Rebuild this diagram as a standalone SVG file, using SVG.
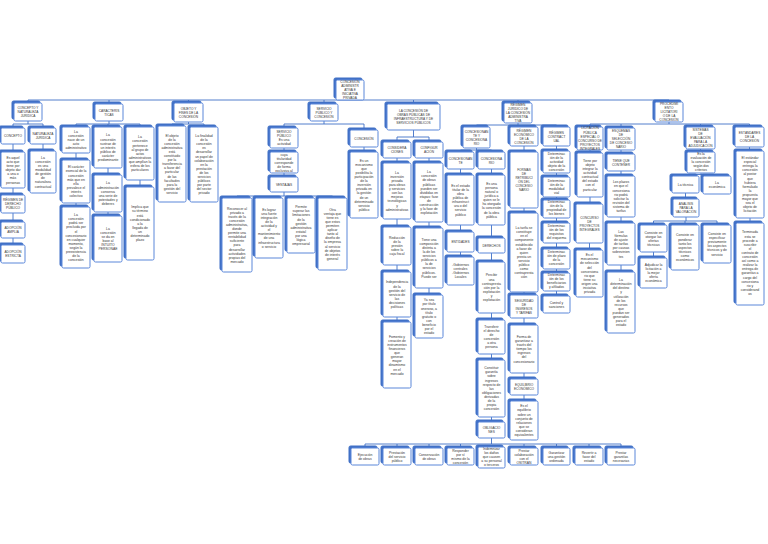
<svg xmlns="http://www.w3.org/2000/svg" width="768" height="544" viewBox="0 0 768 544">
<defs>
<filter id="sh" x="-30%" y="-30%" width="160%" height="160%"><feDropShadow dx="-2" dy="-2" stdDeviation="0" flood-color="#3f6fc6" flood-opacity="1"/></filter>
<style>
.node rect{fill:#fff;stroke:#5b87d9;stroke-width:1;filter:url(#sh)}
.node text{font-family:"Liberation Sans",Arial,sans-serif;font-size:3.4px;fill:#333;text-anchor:middle}
.node.h text{font-size:3.2px}
#connectors path{fill:none;stroke:#3f6fc6;stroke-width:0.9}
</style>
</defs>
<rect width="768" height="544" fill="#fff"/>
<g id="connectors">
<path d="M28 100H669M28 100V103M109 100V104M188.5 100V103M324 100V104M413.5 100V104M518 100V103M669 100V102"/>
<path d="M28 121V124M13 124H43M13 124V128M43 124V128M13 144V152M13 188V195M13 213V222M13 238V245M43 144V151"/>
<path d="M109 121V124M76 124H140M76 124V127M108 124V127M140 124V127M76 153V160M76 203V207M108 168V175M108 212V216M140 180V187"/>
<path d="M188.5 122V124M172 124H204M172 124V126M204 124V127"/>
<path d="M324 121V124M284 124H364M284 124V128M364 124V130M284 148V152M284 173V177M364 147V152M284 192V196M237 196H332.5M237 196V198M269 196V198M301 196V198M332.5 196V198"/>
<path d="M413.5 130V137M397 137H429M397 137V142M429 137V142M397 158V163M397 219V227M397 265V272M397 317V322M429 158V163M429 222V228M429 288V295"/>
<path d="M518 123V125M476.5 125H556.5M476.5 125V127M524 125V127M556.5 125V127M476.5 148V150M460.5 150H491.5M460.5 150V152M491.5 150V152"/>
<path d="M460.5 169V175M460.5 225V232M460.5 252V257M491.5 169V175M491.5 225V238M491.5 253V262M491.5 313V320M491.5 354V360M491.5 417V422M491.5 438V444M365 444H621M365 444V448M397 444V448M429 444V448M460.5 444V448M524 444V448M556.5 444V448M589 444V448M621 444V448"/>
<path d="M524 146V152M524 208V213M524 292V295M524 318V325M524 373V379M524 395V401M556.5 146V151M556.5 173V177M556.5 197V200M556.5 218V223M556.5 243V249M556.5 269V273M556.5 291V296"/>
<path d="M669 122V124M590 124H749.5M590 124V127M621 124V128M700.5 124V127M749.5 124V127M590 150V153M590 197V204M589.5 243V250M621 150V154M621 171V176M621 217V223M621 265V272"/>
<path d="M700.5 149V152M701 173V174.5M685.5 174.5H717M685.5 174.5V176M717 174.5V176M685.5 193V199M686 217V221M653.5 221H717M653.5 221V225M685 221V225M717 221V225M653.5 252V258M749.5 147V151M750 218V223"/>
</g>
<g id="root" class="node h"><rect x="336" y="80" width="28" height="20" rx="1.5"/><text x="350" y="83"><tspan x="350">CONCESIÓN</tspan><tspan x="350" dy="4.1">ADMINISTR</tspan><tspan x="350" dy="4.1">ATIVA E</tspan><tspan x="350" dy="4.1">INICIATIVA</tspan><tspan x="350" dy="4.1">PRIVADA</tspan></text></g>
<g id="concepto-naturaleza" class="node h"><rect x="14" y="103" width="28" height="18" rx="1.5"/><text x="28" y="109.1"><tspan x="28">CONCEPTO Y</tspan><tspan x="28" dy="4.1">NATURALEZA</tspan><tspan x="28" dy="4.1">JURÍDICA</tspan></text></g>
<g id="concepto" class="node h"><rect x="1" y="128" width="24" height="16" rx="1.5"/><text x="13" y="137.2"><tspan x="13">CONCEPTO</tspan></text></g>
<g id="naturaleza" class="node h"><rect x="30" y="128" width="26" height="16" rx="1.5"/><text x="43" y="135.15"><tspan x="43">NATURALEZA</tspan><tspan x="43" dy="4.1">JURÍDICA</tspan></text></g>
<g id="concepto-txt" class="node"><rect x="1" y="152" width="24" height="36" rx="1.5"/><text x="13" y="158.9"><tspan x="13">Es aquel</tspan><tspan x="13" dy="4.1">acto que</tspan><tspan x="13" dy="4.1">tiene por</tspan><tspan x="13" dy="4.1">objeto dar</tspan><tspan x="13" dy="4.1">a una o</tspan><tspan x="13" dy="4.1">más</tspan><tspan x="13" dy="4.1">personas</tspan></text></g>
<g id="regimen-dp" class="node h"><rect x="1" y="195" width="24" height="18" rx="1.5"/><text x="13" y="201.1"><tspan x="13">RÉGIMEN DE</tspan><tspan x="13" dy="4.1">DERECHO</tspan><tspan x="13" dy="4.1">PÚBLICO</tspan></text></g>
<g id="adopcion-amplia" class="node h"><rect x="1" y="222" width="24" height="16" rx="1.5"/><text x="13" y="229.15"><tspan x="13">ADOPCIÓN</tspan><tspan x="13" dy="4.1">AMPLIA</tspan></text></g>
<g id="adopcion-estricta" class="node h"><rect x="1" y="245" width="24" height="18" rx="1.5"/><text x="13" y="253.15"><tspan x="13">ADOPCIÓN</tspan><tspan x="13" dy="4.1">ESTRICTA</tspan></text></g>
<g id="naturaleza-txt" class="node"><rect x="30" y="151" width="26" height="42" rx="1.5"/><text x="43" y="158.85"><tspan x="43">La</tspan><tspan x="43" dy="4.1">concesión</tspan><tspan x="43" dy="4.1">es una</tspan><tspan x="43" dy="4.1">modalidad</tspan><tspan x="43" dy="4.1">de gestión</tspan><tspan x="43" dy="4.1">de</tspan><tspan x="43" dy="4.1">naturaleza</tspan><tspan x="43" dy="4.1">contractual</tspan></text></g>
<g id="caracteristicas" class="node h"><rect x="95" y="104" width="28" height="17" rx="1.5"/><text x="109" y="111.65"><tspan x="109">CARACTERÍS</tspan><tspan x="109" dy="4.1">TICAS</tspan></text></g>
<g id="car-1" class="node"><rect x="62" y="127" width="28" height="26" rx="1.5"/><text x="76" y="133"><tspan x="76">La</tspan><tspan x="76" dy="4.1">concesión</tspan><tspan x="76" dy="4.1">nace de un</tspan><tspan x="76" dy="4.1">acto</tspan><tspan x="76" dy="4.1">administrativo</tspan></text></g>
<g id="car-2" class="node"><rect x="62" y="160" width="28" height="43" rx="1.5"/><text x="76" y="168.35"><tspan x="76">El carácter</tspan><tspan x="76" dy="4.1">esencial de la</tspan><tspan x="76" dy="4.1">concesión</tspan><tspan x="76" dy="4.1">más que en</tspan><tspan x="76" dy="4.1">ella</tspan><tspan x="76" dy="4.1">prevalece el</tspan><tspan x="76" dy="4.1">interés</tspan><tspan x="76" dy="4.1">colectivo</tspan></text></g>
<g id="car-3" class="node"><rect x="62" y="207" width="28" height="61" rx="1.5"/><text x="76" y="216.15"><tspan x="76">La</tspan><tspan x="76" dy="4.1">concesión</tspan><tspan x="76" dy="4.1">podrá ser</tspan><tspan x="76" dy="4.1">precluida por</tspan><tspan x="76" dy="4.1">el</tspan><tspan x="76" dy="4.1">concesionario</tspan><tspan x="76" dy="4.1">en cualquier</tspan><tspan x="76" dy="4.1">momento,</tspan><tspan x="76" dy="4.1">según la</tspan><tspan x="76" dy="4.1">preexistencia</tspan><tspan x="76" dy="4.1">de la</tspan><tspan x="76" dy="4.1">concesión</tspan></text></g>
<g id="car-4" class="node"><rect x="94" y="127" width="28" height="41" rx="1.5"/><text x="108" y="136.4"><tspan x="108">La</tspan><tspan x="108" dy="4.1">concesión</tspan><tspan x="108" dy="4.1">sustrae de</tspan><tspan x="108" dy="4.1">un interés</tspan><tspan x="108" dy="4.1">público de</tspan><tspan x="108" dy="4.1">carácter</tspan><tspan x="108" dy="4.1">predominante</tspan></text></g>
<g id="car-5" class="node"><rect x="94" y="175" width="28" height="37" rx="1.5"/><text x="108" y="184.45"><tspan x="108">La</tspan><tspan x="108" dy="4.1">administración</tspan><tspan x="108" dy="4.1">conserva</tspan><tspan x="108" dy="4.1">una serie de</tspan><tspan x="108" dy="4.1">potestades y</tspan><tspan x="108" dy="4.1">deberes</tspan></text></g>
<g id="car-6" class="node"><rect x="94" y="216" width="28" height="46" rx="1.5"/><text x="108" y="229.95"><tspan x="108">La</tspan><tspan x="108" dy="4.1">concesión</tspan><tspan x="108" dy="4.1">se da en</tspan><tspan x="108" dy="4.1">base al</tspan><tspan x="108" dy="4.1">INTUITO</tspan><tspan x="108" dy="4.1">PERSONAE</tspan></text></g>
<g id="car-7" class="node"><rect x="126" y="127" width="28" height="53" rx="1.5"/><text x="140" y="138.3"><tspan x="140">La</tspan><tspan x="140" dy="4.1">concesión</tspan><tspan x="140" dy="4.1">pertenece</tspan><tspan x="140" dy="4.1">al grupo de</tspan><tspan x="140" dy="4.1">actos</tspan><tspan x="140" dy="4.1">administrativos</tspan><tspan x="140" dy="4.1">que amplían la</tspan><tspan x="140" dy="4.1">esfera de los</tspan><tspan x="140" dy="4.1">particulares</tspan></text></g>
<g id="car-8" class="node"><rect x="126" y="187" width="28" height="73" rx="1.5"/><text x="140" y="208.3"><tspan x="140">Implica que</tspan><tspan x="140" dy="4.1">su término</tspan><tspan x="140" dy="4.1">está</tspan><tspan x="140" dy="4.1">condicionado</tspan><tspan x="140" dy="4.1">a la</tspan><tspan x="140" dy="4.1">llegada de</tspan><tspan x="140" dy="4.1">un</tspan><tspan x="140" dy="4.1">determinado</tspan><tspan x="140" dy="4.1">plazo</tspan></text></g>
<g id="objeto-fines" class="node h"><rect x="174" y="103" width="29" height="19" rx="1.5"/><text x="188.5" y="109.5"><tspan x="188.5">OBJETO Y</tspan><tspan x="188.5" dy="4.1">FINES DE LA</tspan><tspan x="188.5" dy="4.1">CONCESIÓN</tspan></text></g>
<g id="objeto-txt" class="node"><rect x="158" y="126" width="28" height="76" rx="1.5"/><text x="172" y="136.5"><tspan x="172">El objeto</tspan><tspan x="172" dy="4.1">de la</tspan><tspan x="172" dy="4.1">concesión</tspan><tspan x="172" dy="4.1">administrativa</tspan><tspan x="172" dy="4.1">está</tspan><tspan x="172" dy="4.1">constituido</tspan><tspan x="172" dy="4.1">por la</tspan><tspan x="172" dy="4.1">transferencia</tspan><tspan x="172" dy="4.1">a favor del</tspan><tspan x="172" dy="4.1">particular</tspan><tspan x="172" dy="4.1">de las</tspan><tspan x="172" dy="4.1">facultades</tspan><tspan x="172" dy="4.1">para la</tspan><tspan x="172" dy="4.1">gestión del</tspan><tspan x="172" dy="4.1">servicio</tspan></text></g>
<g id="fines-txt" class="node"><rect x="190" y="127" width="28" height="75" rx="1.5"/><text x="204" y="137"><tspan x="204">La finalidad</tspan><tspan x="204" dy="4.1">de la</tspan><tspan x="204" dy="4.1">concesión</tspan><tspan x="204" dy="4.1">es</tspan><tspan x="204" dy="4.1">desarrollar</tspan><tspan x="204" dy="4.1">un papel de</tspan><tspan x="204" dy="4.1">colaboración</tspan><tspan x="204" dy="4.1">en la</tspan><tspan x="204" dy="4.1">prestación</tspan><tspan x="204" dy="4.1">de los</tspan><tspan x="204" dy="4.1">servicios</tspan><tspan x="204" dy="4.1">públicos</tspan><tspan x="204" dy="4.1">por parte</tspan><tspan x="204" dy="4.1">del sector</tspan><tspan x="204" dy="4.1">privado</tspan></text></g>
<g id="servicio-concesion" class="node h"><rect x="310" y="104" width="28" height="17" rx="1.5"/><text x="324" y="109.5"><tspan x="324">SERVICIO</tspan><tspan x="324" dy="4.1">PÚBLICO Y</tspan><tspan x="324" dy="4.1">CONCESIÓN</tspan></text></g>
<g id="servicio-publico" class="node h"><rect x="270" y="128" width="28" height="20" rx="1.5"/><text x="284" y="133.05"><tspan x="284">SERVICIO</tspan><tspan x="284" dy="4.1">PÚBLICO</tspan><tspan x="284" dy="4.1" style="font-size:3.4px">Es una</tspan><tspan x="284" dy="4.1" style="font-size:3.4px">actividad</tspan></text></g>
<g id="titularidad" class="node"><rect x="270" y="152" width="28" height="21" rx="1.5"/><text x="284" y="155.5"><tspan x="284">cuya</tspan><tspan x="284" dy="4.1">titularidad</tspan><tspan x="284" dy="4.1">corresponde</tspan><tspan x="284" dy="4.1">de forma</tspan><tspan x="284" dy="4.1">exclusiva al</tspan></text></g>
<g id="ventajas" class="node h"><rect x="270" y="177" width="28" height="15" rx="1.5"/><text x="284" y="185.7"><tspan x="284">VENTAJAS</tspan></text></g>
<g id="ventaja-1" class="node"><rect x="222" y="198" width="30" height="74" rx="1.5"/><text x="237" y="209.55"><tspan x="237">Reconocer al</tspan><tspan x="237" dy="4.1">privado a</tspan><tspan x="237" dy="4.1">través de la</tspan><tspan x="237" dy="4.1">concesión</tspan><tspan x="237" dy="4.1">administrativa,</tspan><tspan x="237" dy="4.1">donde</tspan><tspan x="237" dy="4.1">permite una</tspan><tspan x="237" dy="4.1">rentabilidad</tspan><tspan x="237" dy="4.1">suficiente</tspan><tspan x="237" dy="4.1">para</tspan><tspan x="237" dy="4.1">desarrollar</tspan><tspan x="237" dy="4.1">actividades</tspan><tspan x="237" dy="4.1">propias del</tspan><tspan x="237" dy="4.1">mercado</tspan></text></g>
<g id="ventaja-2" class="node"><rect x="255" y="198" width="28" height="60" rx="1.5"/><text x="269" y="210.75"><tspan x="269">Es lograr</tspan><tspan x="269" dy="4.1">una fuerte</tspan><tspan x="269" dy="4.1">integración</tspan><tspan x="269" dy="4.1">de la</tspan><tspan x="269" dy="4.1">actividad y</tspan><tspan x="269" dy="4.1">el</tspan><tspan x="269" dy="4.1">mantenimiento</tspan><tspan x="269" dy="4.1">de una</tspan><tspan x="269" dy="4.1">infraestructura</tspan><tspan x="269" dy="4.1">o servicio</tspan></text></g>
<g id="ventaja-3" class="node"><rect x="287" y="198" width="28" height="55" rx="1.5"/><text x="301" y="208.25"><tspan x="301">Permite</tspan><tspan x="301" dy="4.1">superar las</tspan><tspan x="301" dy="4.1">limitaciones</tspan><tspan x="301" dy="4.1">de la</tspan><tspan x="301" dy="4.1">gestión</tspan><tspan x="301" dy="4.1">administrativa</tspan><tspan x="301" dy="4.1">estatal</tspan><tspan x="301" dy="4.1">por una</tspan><tspan x="301" dy="4.1">lógica</tspan><tspan x="301" dy="4.1">empresarial</tspan></text></g>
<g id="ventaja-4" class="node"><rect x="318" y="198" width="29" height="72" rx="1.5"/><text x="332.5" y="210.6"><tspan x="332.5">Otra</tspan><tspan x="332.5" dy="4.1">ventaja que</tspan><tspan x="332.5" dy="4.1">tiene es</tspan><tspan x="332.5" dy="4.1">que estos</tspan><tspan x="332.5" dy="4.1">permiten</tspan><tspan x="332.5" dy="4.1">aplicar</tspan><tspan x="332.5" dy="4.1">tanto al</tspan><tspan x="332.5" dy="4.1">diseño de</tspan><tspan x="332.5" dy="4.1">la empresa</tspan><tspan x="332.5" dy="4.1">al servicio</tspan><tspan x="332.5" dy="4.1">de objetos</tspan><tspan x="332.5" dy="4.1">de interés</tspan><tspan x="332.5" dy="4.1">general</tspan></text></g>
<g id="concesion" class="node h"><rect x="350" y="130" width="28" height="17" rx="1.5"/><text x="364" y="139.7"><tspan x="364">CONCESIÓN</tspan></text></g>
<g id="concesion-txt" class="node"><rect x="350" y="152" width="28" height="66" rx="1.5"/><text x="364" y="161.6"><tspan x="364">Es un</tspan><tspan x="364" dy="4.1">mecanismo</tspan><tspan x="364" dy="4.1">que</tspan><tspan x="364" dy="4.1">posibilita la</tspan><tspan x="364" dy="4.1">participación</tspan><tspan x="364" dy="4.1">de la</tspan><tspan x="364" dy="4.1">inversión</tspan><tspan x="364" dy="4.1">privada en</tspan><tspan x="364" dy="4.1">la gestión</tspan><tspan x="364" dy="4.1">de un</tspan><tspan x="364" dy="4.1">determinado</tspan><tspan x="364" dy="4.1">servicio</tspan><tspan x="364" dy="4.1">público</tspan></text></g>
<g id="obras" class="node h"><rect x="387" y="104" width="53" height="26" rx="1.5"/><text x="413.5" y="112.05"><tspan x="413.5">LA CONCESIÓN DE</tspan><tspan x="413.5" dy="4.1">OBRAS PÚBLICAS DE</tspan><tspan x="413.5" dy="4.1">INFRAESTRUCTURA Y DE</tspan><tspan x="413.5" dy="4.1">SERVICIOS PÚBLICOS</tspan></text></g>
<g id="consideraciones" class="node h"><rect x="383" y="142" width="28" height="16" rx="1.5"/><text x="397" y="149.15"><tspan x="397">CONSIDERA</tspan><tspan x="397" dy="4.1">CIONES</tspan></text></g>
<g id="configuracion" class="node h"><rect x="415" y="142" width="28" height="16" rx="1.5"/><text x="429" y="149.15"><tspan x="429">CONFIGUR</tspan><tspan x="429" dy="4.1">ACIÓN</tspan></text></g>
<g id="cons-1" class="node"><rect x="383" y="163" width="28" height="56" rx="1.5"/><text x="397" y="173.75"><tspan x="397">La</tspan><tspan x="397" dy="4.1">inversión</tspan><tspan x="397" dy="4.1">privada</tspan><tspan x="397" dy="4.1">para obras</tspan><tspan x="397" dy="4.1">y servicios</tspan><tspan x="397" dy="4.1">con las</tspan><tspan x="397" dy="4.1">mejoras</tspan><tspan x="397" dy="4.1">tecnológicas</tspan><tspan x="397" dy="4.1">y</tspan><tspan x="397" dy="4.1">administrativas</tspan></text></g>
<g id="cons-2" class="node"><rect x="383" y="227" width="28" height="38" rx="1.5"/><text x="397" y="239"><tspan x="397">Reducción</tspan><tspan x="397" dy="4.1">de la</tspan><tspan x="397" dy="4.1">presión</tspan><tspan x="397" dy="4.1">sobre la</tspan><tspan x="397" dy="4.1">caja fiscal</tspan></text></g>
<g id="cons-3" class="node"><rect x="383" y="272" width="28" height="45" rx="1.5"/><text x="397" y="283.4"><tspan x="397">Independencia</tspan><tspan x="397" dy="4.1">de la</tspan><tspan x="397" dy="4.1">gestión del</tspan><tspan x="397" dy="4.1">servicio de</tspan><tspan x="397" dy="4.1">las</tspan><tspan x="397" dy="4.1">decisiones</tspan><tspan x="397" dy="4.1">políticas</tspan></text></g>
<g id="cons-4" class="node"><rect x="383" y="322" width="28" height="66" rx="1.5"/><text x="397" y="337.75"><tspan x="397">Fomento y</tspan><tspan x="397" dy="4.1">creación de</tspan><tspan x="397" dy="4.1">instrumentos</tspan><tspan x="397" dy="4.1">financieros</tspan><tspan x="397" dy="4.1">que</tspan><tspan x="397" dy="4.1">generan</tspan><tspan x="397" dy="4.1">mayor</tspan><tspan x="397" dy="4.1">dinamismo</tspan><tspan x="397" dy="4.1">en el</tspan><tspan x="397" dy="4.1">mercado</tspan></text></g>
<g id="conf-1" class="node"><rect x="415" y="163" width="28" height="59" rx="1.5"/><text x="429" y="173.2"><tspan x="429">La</tspan><tspan x="429" dy="4.1">concesión</tspan><tspan x="429" dy="4.1">de obras</tspan><tspan x="429" dy="4.1">públicas</tspan><tspan x="429" dy="4.1">pueden ser</tspan><tspan x="429" dy="4.1">divididas en</tspan><tspan x="429" dy="4.1">etapas: fase</tspan><tspan x="429" dy="4.1">de</tspan><tspan x="429" dy="4.1">construcción</tspan><tspan x="429" dy="4.1">y la fase de</tspan><tspan x="429" dy="4.1">explotación</tspan></text></g>
<g id="conf-2" class="node"><rect x="415" y="228" width="28" height="60" rx="1.5"/><text x="429" y="240.75"><tspan x="429">Tiene una</tspan><tspan x="429" dy="4.1">composición</tspan><tspan x="429" dy="4.1">distinta a</tspan><tspan x="429" dy="4.1">la de los</tspan><tspan x="429" dy="4.1">servicios</tspan><tspan x="429" dy="4.1">públicos a</tspan><tspan x="429" dy="4.1">la de</tspan><tspan x="429" dy="4.1">servicios</tspan><tspan x="429" dy="4.1">públicos.</tspan><tspan x="429" dy="4.1">Puede ser</tspan></text></g>
<g id="conf-3" class="node"><rect x="415" y="295" width="28" height="43" rx="1.5"/><text x="429" y="301.3"><tspan x="429">Ya sea</tspan><tspan x="429" dy="4.1">por título</tspan><tspan x="429" dy="4.1">oneroso, a</tspan><tspan x="429" dy="4.1">título</tspan><tspan x="429" dy="4.1">gratuito o</tspan><tspan x="429" dy="4.1">con</tspan><tspan x="429" dy="4.1">beneficio</tspan><tspan x="429" dy="4.1">por el</tspan><tspan x="429" dy="4.1">estado</tspan></text></g>
<g id="regimen-juridico" class="node h"><rect x="504" y="103" width="28" height="20" rx="1.5"/><text x="518" y="106"><tspan x="518">RÉGIMEN</tspan><tspan x="518" dy="4.1">JURÍDICO DE</tspan><tspan x="518" dy="4.1">LA CONCESIÓN</tspan><tspan x="518" dy="4.1">ADMINISTRA</tspan><tspan x="518" dy="4.1">TIVA</tspan></text></g>
<g id="concesionante-concesionario" class="node h"><rect x="463" y="127" width="27" height="21" rx="1.5"/><text x="476.5" y="132.55"><tspan x="476.5">CONCESIONAN</tspan><tspan x="476.5" dy="4.1">TE Y</tspan><tspan x="476.5" dy="4.1">CONCESIONA</tspan><tspan x="476.5" dy="4.1">RIO</tspan></text></g>
<g id="regimen-economico" class="node h"><rect x="510" y="127" width="28" height="19" rx="1.5"/><text x="524" y="131.55"><tspan x="524">RÉGIMEN</tspan><tspan x="524" dy="4.1">ECONÓMICO</tspan><tspan x="524" dy="4.1">DE LA</tspan><tspan x="524" dy="4.1">CONCESIÓN</tspan></text></g>
<g id="regimen-contractual" class="node h"><rect x="543" y="127" width="27" height="19" rx="1.5"/><text x="556.5" y="133.6"><tspan x="556.5">RÉGIMEN</tspan><tspan x="556.5" dy="4.1">CONTRACT</tspan><tspan x="556.5" dy="4.1">UAL</tspan></text></g>
<g id="concesionante" class="node h"><rect x="447" y="152" width="27" height="17" rx="1.5"/><text x="460.5" y="159.65"><tspan x="460.5">CONCESIONAN</tspan><tspan x="460.5" dy="4.1">TE</tspan></text></g>
<g id="concesionario" class="node h"><rect x="478" y="152" width="27" height="17" rx="1.5"/><text x="491.5" y="159.65"><tspan x="491.5">CONCESIONA</tspan><tspan x="491.5" dy="4.1">RIO</tspan></text></g>
<g id="concesionante-txt" class="node"><rect x="447" y="175" width="27" height="50" rx="1.5"/><text x="460.5" y="186.85"><tspan x="460.5">Es el estado</tspan><tspan x="460.5" dy="4.1">titular de la</tspan><tspan x="460.5" dy="4.1">obra</tspan><tspan x="460.5" dy="4.1">pública de</tspan><tspan x="460.5" dy="4.1">infraestruct</tspan><tspan x="460.5" dy="4.1">ura o del</tspan><tspan x="460.5" dy="4.1">servicio</tspan><tspan x="460.5" dy="4.1">público</tspan></text></g>
<g id="entidades" class="node h"><rect x="447" y="232" width="27" height="20" rx="1.5"/><text x="460.5" y="243.2"><tspan x="460.5">ENTIDADES</tspan></text></g>
<g id="gobiernos" class="node"><rect x="447" y="257" width="27" height="28" rx="1.5"/><text x="460.5" y="266.05"><tspan x="460.5">-Gobiernos</tspan><tspan x="460.5" dy="4.1">centrales</tspan><tspan x="460.5" dy="4.1">-Gobiernos</tspan><tspan x="460.5" dy="4.1">Locales</tspan></text></g>
<g id="concesionario-txt" class="node"><rect x="478" y="175" width="27" height="50" rx="1.5"/><text x="491.5" y="184.8"><tspan x="491.5">Es una</tspan><tspan x="491.5" dy="4.1">persona</tspan><tspan x="491.5" dy="4.1">natural o</tspan><tspan x="491.5" dy="4.1">jurídica a</tspan><tspan x="491.5" dy="4.1">quien se le</tspan><tspan x="491.5" dy="4.1">ha otorgado</tspan><tspan x="491.5" dy="4.1">la concesión</tspan><tspan x="491.5" dy="4.1">de la obra</tspan><tspan x="491.5" dy="4.1">pública</tspan></text></g>
<g id="derechos" class="node h"><rect x="478" y="238" width="27" height="15" rx="1.5"/><text x="491.5" y="246.7"><tspan x="491.5">DERECHOS</tspan></text></g>
<g id="derecho-1" class="node"><rect x="478" y="262" width="27" height="51" rx="1.5"/><text x="491.5" y="276.4"><tspan x="491.5">Percibir</tspan><tspan x="491.5" dy="4.1">una</tspan><tspan x="491.5" dy="4.1">contrapresta</tspan><tspan x="491.5" dy="4.1">ción por la</tspan><tspan x="491.5" dy="4.1">explotación</tspan><tspan x="491.5" dy="4.1">y</tspan><tspan x="491.5" dy="4.1">explotación</tspan></text></g>
<g id="derecho-2" class="node"><rect x="478" y="320" width="27" height="34" rx="1.5"/><text x="491.5" y="327.95"><tspan x="491.5">Transferir</tspan><tspan x="491.5" dy="4.1">el derecho</tspan><tspan x="491.5" dy="4.1">de</tspan><tspan x="491.5" dy="4.1">concesión</tspan><tspan x="491.5" dy="4.1">a otra</tspan><tspan x="491.5" dy="4.1">persona</tspan></text></g>
<g id="derecho-3" class="node"><rect x="478" y="360" width="27" height="57" rx="1.5"/><text x="491.5" y="369.2"><tspan x="491.5">Constituir</tspan><tspan x="491.5" dy="4.1">garantía</tspan><tspan x="491.5" dy="4.1">sobre</tspan><tspan x="491.5" dy="4.1">ingresos</tspan><tspan x="491.5" dy="4.1">respecto de</tspan><tspan x="491.5" dy="4.1">las</tspan><tspan x="491.5" dy="4.1">obligaciones</tspan><tspan x="491.5" dy="4.1">derivadas</tspan><tspan x="491.5" dy="4.1">de la</tspan><tspan x="491.5" dy="4.1">propia</tspan><tspan x="491.5" dy="4.1">concesión</tspan></text></g>
<g id="obligaciones" class="node h"><rect x="478" y="422" width="27" height="16" rx="1.5"/><text x="491.5" y="429.15"><tspan x="491.5">OBLIGACIO</tspan><tspan x="491.5" dy="4.1">NES</tspan></text></g>
<g id="oblig-1" class="node"><rect x="351" y="448" width="28" height="17" rx="1.5"/><text x="365" y="455.65"><tspan x="365">Ejecución</tspan><tspan x="365" dy="4.1">de obras</tspan></text></g>
<g id="oblig-2" class="node"><rect x="383" y="448" width="28" height="17" rx="1.5"/><text x="397" y="453.6"><tspan x="397">Prestación</tspan><tspan x="397" dy="4.1">del servicio</tspan><tspan x="397" dy="4.1">público</tspan></text></g>
<g id="oblig-3" class="node"><rect x="415" y="448" width="28" height="17" rx="1.5"/><text x="429" y="455.65"><tspan x="429">Conservación</tspan><tspan x="429" dy="4.1">de obras</tspan></text></g>
<g id="oblig-4" class="node"><rect x="447" y="448" width="27" height="17" rx="1.5"/><text x="460.5" y="451.55"><tspan x="460.5">Responder</tspan><tspan x="460.5" dy="4.1">por sí</tspan><tspan x="460.5" dy="4.1">mismo de la</tspan><tspan x="460.5" dy="4.1">concesión</tspan></text></g>
<g id="oblig-5" class="node"><rect x="478" y="447" width="27" height="21" rx="1.5"/><text x="491.5" y="449.5"><tspan x="491.5">Indemnizar</tspan><tspan x="491.5" dy="4.1">los daños</tspan><tspan x="491.5" dy="4.1">que causen</tspan><tspan x="491.5" dy="4.1">a su personal</tspan><tspan x="491.5" dy="4.1">o terceros</tspan></text></g>
<g id="oblig-6" class="node"><rect x="510" y="448" width="28" height="17" rx="1.5"/><text x="524" y="451.55"><tspan x="524">Prestar</tspan><tspan x="524" dy="4.1">colaboración</tspan><tspan x="524" dy="4.1">con el</tspan><tspan x="524" dy="4.1">OSITRAN</tspan></text></g>
<g id="oblig-7" class="node"><rect x="543" y="448" width="27" height="17" rx="1.5"/><text x="556.5" y="453.6"><tspan x="556.5">Garantizar</tspan><tspan x="556.5" dy="4.1">una gestión</tspan><tspan x="556.5" dy="4.1">ordenada</tspan></text></g>
<g id="oblig-8" class="node"><rect x="575" y="448" width="28" height="17" rx="1.5"/><text x="589" y="453.6"><tspan x="589">Revertir a</tspan><tspan x="589" dy="4.1">favor del</tspan><tspan x="589" dy="4.1">estado</tspan></text></g>
<g id="oblig-9" class="node"><rect x="607" y="448" width="28" height="17" rx="1.5"/><text x="621" y="453.6"><tspan x="621">Prestar</tspan><tspan x="621" dy="4.1">garantías</tspan><tspan x="621" dy="4.1">necesarias</tspan></text></g>
<g id="formas-retribucion" class="node h"><rect x="510" y="152" width="28" height="56" rx="1.5"/><text x="524" y="170.95"><tspan x="524">FORMAS</tspan><tspan x="524" dy="4.1">DE</tspan><tspan x="524" dy="4.1">RETRIBUCI</tspan><tspan x="524" dy="4.1">ÓN DEL</tspan><tspan x="524" dy="4.1">CONCESIO</tspan><tspan x="524" dy="4.1">NARIO</tspan></text></g>
<g id="tarifa" class="node"><rect x="510" y="213" width="28" height="79" rx="1.5"/><text x="524" y="229.1"><tspan x="524">La tarifa se</tspan><tspan x="524" dy="4.1">constituye</tspan><tspan x="524" dy="4.1">en el</tspan><tspan x="524" dy="4.1">componente</tspan><tspan x="524" dy="4.1">establecido</tspan><tspan x="524" dy="4.1">a favor de</tspan><tspan x="524" dy="4.1">quien</tspan><tspan x="524" dy="4.1">presta un</tspan><tspan x="524" dy="4.1">servicio</tspan><tspan x="524" dy="4.1">público</tspan><tspan x="524" dy="4.1">como</tspan><tspan x="524" dy="4.1">contrapresta</tspan><tspan x="524" dy="4.1">ción</tspan></text></g>
<g id="seguridad" class="node h"><rect x="510" y="295" width="28" height="23" rx="1.5"/><text x="524" y="301.55"><tspan x="524">SEGURIDAD</tspan><tspan x="524" dy="4.1">DE</tspan><tspan x="524" dy="4.1">INGRESOS</tspan><tspan x="524" dy="4.1">Y TARIFAS</tspan></text></g>
<g id="seguridad-txt" class="node"><rect x="510" y="325" width="28" height="48" rx="1.5"/><text x="524" y="337.9"><tspan x="524">Forma de</tspan><tspan x="524" dy="4.1">garantizar a</tspan><tspan x="524" dy="4.1">través del</tspan><tspan x="524" dy="4.1">tiempo los</tspan><tspan x="524" dy="4.1">ingresos</tspan><tspan x="524" dy="4.1">del</tspan><tspan x="524" dy="4.1">concesionario</tspan></text></g>
<g id="equilibrio" class="node h"><rect x="510" y="379" width="28" height="16" rx="1.5"/><text x="524" y="386.15"><tspan x="524">EQUILIBRIO</tspan><tspan x="524" dy="4.1">ECONÓMICO</tspan></text></g>
<g id="equilibrio-txt" class="node"><rect x="510" y="401" width="28" height="39" rx="1.5"/><text x="524" y="407.35"><tspan x="524">Es el</tspan><tspan x="524" dy="4.1">equilibrio</tspan><tspan x="524" dy="4.1">sobre un</tspan><tspan x="524" dy="4.1">conjunto de</tspan><tspan x="524" dy="4.1">relaciones</tspan><tspan x="524" dy="4.1">que se</tspan><tspan x="524" dy="4.1">consideran</tspan><tspan x="524" dy="4.1">equivalentes</tspan></text></g>
<g id="contr-1" class="node"><rect x="543" y="151" width="27" height="22" rx="1.5"/><text x="556.5" y="155"><tspan x="556.5">Determinac</tspan><tspan x="556.5" dy="4.1">ión de la</tspan><tspan x="556.5" dy="4.1">actividad</tspan><tspan x="556.5" dy="4.1">objeto de la</tspan><tspan x="556.5" dy="4.1">concesión</tspan></text></g>
<g id="contr-2" class="node"><rect x="543" y="177" width="27" height="20" rx="1.5"/><text x="556.5" y="182.05"><tspan x="556.5">Determinac</tspan><tspan x="556.5" dy="4.1">ión de la</tspan><tspan x="556.5" dy="4.1">modalidad</tspan><tspan x="556.5" dy="4.1">vial</tspan></text></g>
<g id="contr-3" class="node"><rect x="543" y="200" width="27" height="18" rx="1.5"/><text x="556.5" y="203.05"><tspan x="556.5">Determinac</tspan><tspan x="556.5" dy="4.1">ión de la</tspan><tspan x="556.5" dy="4.1">propiedad de</tspan><tspan x="556.5" dy="4.1">los bienes</tspan></text></g>
<g id="contr-4" class="node"><rect x="543" y="223" width="27" height="20" rx="1.5"/><text x="556.5" y="227.05"><tspan x="556.5">Determinac</tspan><tspan x="556.5" dy="4.1">ión de los</tspan><tspan x="556.5" dy="4.1">requisitos</tspan><tspan x="556.5" dy="4.1">del esquema</tspan></text></g>
<g id="contr-5" class="node"><rect x="543" y="249" width="27" height="20" rx="1.5"/><text x="556.5" y="253.05"><tspan x="556.5">Determinac</tspan><tspan x="556.5" dy="4.1">ión de plazo</tspan><tspan x="556.5" dy="4.1">de la</tspan><tspan x="556.5" dy="4.1">concesión</tspan></text></g>
<g id="contr-6" class="node"><rect x="543" y="273" width="27" height="18" rx="1.5"/><text x="556.5" y="276.05"><tspan x="556.5">Determinac</tspan><tspan x="556.5" dy="4.1">ión de los</tspan><tspan x="556.5" dy="4.1">beneficiarios</tspan><tspan x="556.5" dy="4.1">y afiliados</tspan></text></g>
<g id="contr-7" class="node"><rect x="543" y="296" width="27" height="17" rx="1.5"/><text x="556.5" y="303.65"><tspan x="556.5">Control y</tspan><tspan x="556.5" dy="4.1">sanciones</tspan></text></g>
<g id="procedimiento" class="node h"><rect x="655" y="102" width="28" height="20" rx="1.5"/><text x="669" y="105"><tspan x="669">PROCEDIMI</tspan><tspan x="669" dy="4.1">ENTO</tspan><tspan x="669" dy="4.1">LICITATORI</tspan><tspan x="669" dy="4.1">O DE LA</tspan><tspan x="669" dy="4.1">CONCESIÓN</tspan></text></g>
<g id="licitacion" class="node h"><rect x="577" y="127" width="26" height="23" rx="1.5"/><text x="590" y="129.45"><tspan x="590">LICITACIÓN</tspan><tspan x="590" dy="4.1">PÚBLICA</tspan><tspan x="590" dy="4.1">ESPECIAL O</tspan><tspan x="590" dy="4.1">CONCURSO DE</tspan><tspan x="590" dy="4.1">PROYECTOS</tspan><tspan x="590" dy="4.1">INTEGRALES</tspan></text></g>
<g id="licitacion-txt" class="node"><rect x="577" y="153" width="26" height="44" rx="1.5"/><text x="590" y="161.85"><tspan x="590">Tiene por</tspan><tspan x="590" dy="4.1">objeto</tspan><tspan x="590" dy="4.1">integrar la</tspan><tspan x="590" dy="4.1">actividad</tspan><tspan x="590" dy="4.1">contractual</tspan><tspan x="590" dy="4.1">del estado</tspan><tspan x="590" dy="4.1">con el</tspan><tspan x="590" dy="4.1">particular</tspan></text></g>
<g id="concurso" class="node h"><rect x="576" y="204" width="27" height="39" rx="1.5"/><text x="589.5" y="218.55"><tspan x="589.5">CONCURSO</tspan><tspan x="589.5" dy="4.1">DE</tspan><tspan x="589.5" dy="4.1">PROYECTOS</tspan><tspan x="589.5" dy="4.1">INTEGRALES</tspan></text></g>
<g id="concurso-txt" class="node"><rect x="576" y="250" width="27" height="47" rx="1.5"/><text x="589.5" y="256.25"><tspan x="589.5">Es el</tspan><tspan x="589.5" dy="4.1">mecanismo</tspan><tspan x="589.5" dy="4.1">de selección</tspan><tspan x="589.5" dy="4.1">del</tspan><tspan x="589.5" dy="4.1">concesiona</tspan><tspan x="589.5" dy="4.1">rio que</tspan><tspan x="589.5" dy="4.1">tiene su</tspan><tspan x="589.5" dy="4.1">origen una</tspan><tspan x="589.5" dy="4.1">iniciativa</tspan><tspan x="589.5" dy="4.1">privada</tspan></text></g>
<g id="esquemas" class="node h"><rect x="607" y="128" width="28" height="22" rx="1.5"/><text x="621" y="132"><tspan x="621">ESQUEMAS</tspan><tspan x="621" dy="4.1">DE</tspan><tspan x="621" dy="4.1">SELECCIÓN</tspan><tspan x="621" dy="4.1">DE CONCESIO</tspan><tspan x="621" dy="4.1">NARIO</tspan></text></g>
<g id="tiene-contener" class="node h"><rect x="607" y="154" width="28" height="17" rx="1.5"/><text x="621" y="161.65"><tspan x="621">TIENE QUE</tspan><tspan x="621" dy="4.1">CONTENER</tspan></text></g>
<g id="contener-1" class="node"><rect x="607" y="176" width="28" height="41" rx="1.5"/><text x="621" y="183.35"><tspan x="621">Los plazos</tspan><tspan x="621" dy="4.1">en que el</tspan><tspan x="621" dy="4.1">concesiona</tspan><tspan x="621" dy="4.1">rio podrá</tspan><tspan x="621" dy="4.1">solicitar la</tspan><tspan x="621" dy="4.1">revisión del</tspan><tspan x="621" dy="4.1">sistema de</tspan><tspan x="621" dy="4.1">tarifas</tspan></text></g>
<g id="contener-2" class="node"><rect x="607" y="223" width="28" height="42" rx="1.5"/><text x="621" y="232.9"><tspan x="621">Las</tspan><tspan x="621" dy="4.1">fórmulas</tspan><tspan x="621" dy="4.1">de ajuste</tspan><tspan x="621" dy="4.1">de tarifas</tspan><tspan x="621" dy="4.1">por causas</tspan><tspan x="621" dy="4.1">sobrevinien</tspan><tspan x="621" dy="4.1">tes</tspan></text></g>
<g id="contener-3" class="node"><rect x="607" y="272" width="28" height="61" rx="1.5"/><text x="621" y="281.15"><tspan x="621">La</tspan><tspan x="621" dy="4.1">determinación</tspan><tspan x="621" dy="4.1">del destino</tspan><tspan x="621" dy="4.1">y</tspan><tspan x="621" dy="4.1">utilización</tspan><tspan x="621" dy="4.1">de los</tspan><tspan x="621" dy="4.1">recursos</tspan><tspan x="621" dy="4.1">que</tspan><tspan x="621" dy="4.1">puedan ser</tspan><tspan x="621" dy="4.1">generados</tspan><tspan x="621" dy="4.1">para el</tspan><tspan x="621" dy="4.1">estado</tspan></text></g>
<g id="sistemas" class="node h"><rect x="686" y="127" width="29" height="22" rx="1.5"/><text x="700.5" y="131"><tspan x="700.5">SISTEMAS</tspan><tspan x="700.5" dy="4.1">DE</tspan><tspan x="700.5" dy="4.1">EVALUACIÓN</tspan><tspan x="700.5" dy="4.1">PARA LA</tspan><tspan x="700.5" dy="4.1">ADJUDICACIÓN</tspan></text></g>
<g id="criterios" class="node"><rect x="687" y="152" width="28" height="21" rx="1.5"/><text x="701" y="154.8"><tspan x="701">Es la</tspan><tspan x="701" dy="4.1">evaluación de</tspan><tspan x="701" dy="4.1">la concesión</tspan><tspan x="701" dy="4.1">según dos</tspan><tspan x="701" dy="4.1">criterios</tspan></text></g>
<g id="tecnica" class="node"><rect x="672" y="176" width="27" height="17" rx="1.5"/><text x="685.5" y="185.7"><tspan x="685.5">La técnica</tspan></text></g>
<g id="economica" class="node"><rect x="703" y="176" width="28" height="18" rx="1.5"/><text x="717" y="184.15"><tspan x="717">La</tspan><tspan x="717" dy="4.1">económica</tspan></text></g>
<g id="valoracion" class="node h"><rect x="673" y="199" width="26" height="18" rx="1.5"/><text x="686" y="205.1"><tspan x="686">ANÁLISIS</tspan><tspan x="686" dy="4.1">PARA LA</tspan><tspan x="686" dy="4.1">VALORACIÓN</tspan></text></g>
<g id="valor-1" class="node"><rect x="640" y="225" width="27" height="27" rx="1.5"/><text x="653.5" y="233.55"><tspan x="653.5">Consiste en</tspan><tspan x="653.5" dy="4.1">otorgar las</tspan><tspan x="653.5" dy="4.1">ofertas</tspan><tspan x="653.5" dy="4.1">técnicas</tspan></text></g>
<g id="valor-2" class="node"><rect x="671" y="225" width="28" height="45" rx="1.5"/><text x="685" y="236.4"><tspan x="685">Consiste en</tspan><tspan x="685" dy="4.1">ponderar</tspan><tspan x="685" dy="4.1">tanto los</tspan><tspan x="685" dy="4.1">aspectos</tspan><tspan x="685" dy="4.1">técnicos</tspan><tspan x="685" dy="4.1">como</tspan><tspan x="685" dy="4.1">económicos</tspan></text></g>
<g id="valor-3" class="node"><rect x="703" y="225" width="28" height="38" rx="1.5"/><text x="717" y="235"><tspan x="717">Consiste en</tspan><tspan x="717" dy="4.1">especificar</tspan><tspan x="717" dy="4.1">previamente</tspan><tspan x="717" dy="4.1">los aspectos</tspan><tspan x="717" dy="4.1">técnicos y de</tspan><tspan x="717" dy="4.1">servicio</tspan></text></g>
<g id="adjudicar" class="node"><rect x="640" y="258" width="27" height="30" rx="1.5"/><text x="653.5" y="266"><tspan x="653.5">Adjudicar la</tspan><tspan x="653.5" dy="4.1">licitación a</tspan><tspan x="653.5" dy="4.1">la mejor</tspan><tspan x="653.5" dy="4.1">oferta</tspan><tspan x="653.5" dy="4.1">económica</tspan></text></g>
<g id="estandares" class="node h"><rect x="735" y="127" width="29" height="20" rx="1.5"/><text x="749.5" y="134.1"><tspan x="749.5">ESTÁNDARES</tspan><tspan x="749.5" dy="4.1">DE LA</tspan><tspan x="749.5" dy="4.1">CONCESIÓN</tspan></text></g>
<g id="estandar-txt" class="node"><rect x="736" y="151" width="28" height="67" rx="1.5"/><text x="750" y="159.05"><tspan x="750">El estándar</tspan><tspan x="750" dy="4.1">especial</tspan><tspan x="750" dy="4.1">entrega la</tspan><tspan x="750" dy="4.1">concesión</tspan><tspan x="750" dy="4.1">al postor</tspan><tspan x="750" dy="4.1">que</tspan><tspan x="750" dy="4.1">hubiera</tspan><tspan x="750" dy="4.1">formulado</tspan><tspan x="750" dy="4.1">la</tspan><tspan x="750" dy="4.1">propuesta</tspan><tspan x="750" dy="4.1">mayor que</tspan><tspan x="750" dy="4.1">sea el</tspan><tspan x="750" dy="4.1">objeto de</tspan><tspan x="750" dy="4.1">licitación</tspan></text></g>
<g id="terminada" class="node"><rect x="736" y="223" width="28" height="82" rx="1.5"/><text x="750" y="233.45"><tspan x="750">Terminada</tspan><tspan x="750" dy="4.1">esta se</tspan><tspan x="750" dy="4.1">procede a</tspan><tspan x="750" dy="4.1">suscribir</tspan><tspan x="750" dy="4.1">el</tspan><tspan x="750" dy="4.1">contrato de</tspan><tspan x="750" dy="4.1">concesión</tspan><tspan x="750" dy="4.1">así como a</tspan><tspan x="750" dy="4.1">realizar la</tspan><tspan x="750" dy="4.1">entrega de</tspan><tspan x="750" dy="4.1">garantías a</tspan><tspan x="750" dy="4.1">cargo del</tspan><tspan x="750" dy="4.1">concesiona</tspan><tspan x="750" dy="4.1">rio y</tspan><tspan x="750" dy="4.1">considerand</tspan><tspan x="750" dy="4.1">os</tspan></text></g>
</svg>
